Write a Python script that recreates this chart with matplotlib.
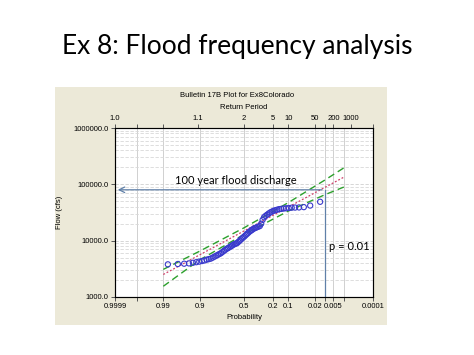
import numpy as np
import matplotlib
matplotlib.use('Agg')
import matplotlib.pyplot as plt
from matplotlib.patches import Rectangle
from statistics import NormalDist

# annual peak flows (cfs), ranked from largest to smallest
peak_flows = [49000, 42000, 39400, 38900, 38700, 38500, 38000, 37600, 37200, 36700,
              36300, 35500, 34700, 33900, 32700, 31600, 30200, 28800, 27500, 26000,
              23400, 20000, 18200, 17800, 17400, 17000, 16600, 16200, 15500, 15000,
              14500, 13800, 13200, 12600, 12000, 11500, 11000, 10500, 10000, 9550,
              9100, 8900, 8700, 8500, 8200, 7900, 7700, 7400, 7200, 6900,
              6600, 6300, 6000, 5800, 5600, 5400, 5200, 5000, 4800, 4700,
              4600, 4450, 4350, 4250, 4150, 4050, 3950, 3900, 3850, 3800]

# fitted frequency curve and confidence limits
curve_prob = [0.99, 0.9, 0.5, 0.1, 0.01, 0.002]
fit_flow = [2510, 5580, 14860, 39550, 87900, 134000]
upper_flow = [3090, 6490, 16900, 47500, 118600, 196000]
lower_flow = [1550, 4540, 12900, 33650, 65200, 89500]

q100 = 80000
p100 = 0.01

bottom_ticks = [0.9999, 0.999, 0.99, 0.9, 0.5, 0.2, 0.1, 0.02, 0.01, 0.005, 0.002, 0.0001]
bottom_labels = ['0.9999', '', '0.99', '0.9', '0.5', '0.2', '0.1', '0.02', '', '0.005', '', '0.0001']
top_periods = [1.0001, 1.001, 1.0101, 1.1, 2, 5, 10, 50, 100, 200, 1000, 10000]
top_labels = ['1.0', '', '', '1.1', '2', '5', '10', '50', '', '200', '1000', '']

nd = NormalDist()
_ppf = np.vectorize(lambda p: nd.inv_cdf(min(max(p, 1e-9), 1 - 1e-9)), otypes=[float])
_cdf = np.vectorize(nd.cdf, otypes=[float])


def fwd(p):
    return _ppf(np.asarray(p, dtype=float))


def inv(z):
    return _cdf(np.asarray(z, dtype=float))


n = len(peak_flows)
plot_pos = [(m + 1) / (n + 1) for m in range(n)]  # Weibull plotting positions

fig = plt.figure(figsize=(4.74, 3.55), dpi=100)
fig.patch.set_facecolor('white')
panel = Rectangle((0.116, 0.0845), 0.700, 0.670, transform=fig.transFigure,
                  facecolor='#ECE9D8', edgecolor='none', zorder=-5)
fig.add_artist(panel)

fig.text(0.5, 0.868, 'Ex 8: Flood frequency analysis', ha='center', va='center',
         fontsize=19, family='Lato', color='black')

ax = fig.add_axes([0.2426, 0.1634, 0.5443, 0.476])
ax.set_xscale('function', functions=(fwd, inv))
ax.set_yscale('log')
ax.set_xlim(0.9999, 0.0001)
ax.set_ylim(1000, 1000000)

# grid
for p in bottom_ticks[1:-1]:
    ax.axvline(p, color='#d0d0d0', lw=0.7, zorder=1)
for dec in [1000, 10000, 100000]:
    for k in range(2, 10):
        ax.axhline(dec * k, color='#d8d8d8', lw=0.6, ls=(0, (4, 2)), zorder=1)
    ax.axhline(dec, color='#d0d0d0', lw=0.6, ls=(0, (4, 2)), zorder=1)

ax.plot(curve_prob, upper_flow, color='#2ca02c', lw=1.0, ls=(0, (5, 3)), zorder=3)
ax.plot(curve_prob, lower_flow, color='#2ca02c', lw=1.0, ls=(0, (5, 3)), zorder=3)
ax.plot(curve_prob, fit_flow, color='#d0406a', lw=0.9, ls=(0, (1.5, 1.5)), zorder=3)
ax.scatter(plot_pos, peak_flows, s=14, facecolors='none', edgecolors='#3a3acc',
           linewidths=0.8, zorder=4)

# 100 year flood lines
line_c = '#6080a8'
ax.plot([p100, p100], [1000, q100], color=line_c, lw=0.9, zorder=5)
ax.annotate('', xy=(0.9999, q100), xytext=(p100, q100),
            arrowprops=dict(arrowstyle='->', color=line_c, lw=0.9), zorder=5)
ax.text(0.233, 0.692, '100 year flood discharge', transform=ax.transAxes,
        fontsize=8, family='Lato', va='center', ha='left')
ax.text(0.829, 0.296, 'p = 0.01', transform=ax.transAxes,
        fontsize=8, family='Lato', va='center', ha='left')

tick_font = dict(fontsize=5.5, family='Liberation Sans')
ax.set_xticks(bottom_ticks)
ax.set_xticklabels(bottom_labels, **tick_font)
ax.xaxis.set_minor_locator(matplotlib.ticker.NullLocator())
ax.set_yticks([1000, 10000, 100000, 1000000])
ax.set_yticklabels(['1000.0', '10000.0', '100000.0', '1000000.0'], **tick_font)
ax.yaxis.set_minor_locator(matplotlib.ticker.NullLocator())
ax.tick_params(length=3, width=0.7, color='#555555', pad=1.5)
ax.set_xlabel('Probability', fontsize=5.5, family='Liberation Sans', labelpad=3)
ax.set_ylabel('Flow (cfs)', fontsize=5.5, family='Liberation Sans', labelpad=18)
ax.yaxis.set_label_coords(-0.2, 0.5)
for s in ax.spines.values():
    s.set_color('#555555')
    s.set_linewidth(0.8)

ax2 = ax.twiny()
ax2.set_xscale('function', functions=(fwd, inv))
ax2.set_xlim(0.9999, 0.0001)
ax2.set_xticks([1.0 / t for t in top_periods])
ax2.set_xticklabels(top_labels, **tick_font)
ax2.xaxis.set_minor_locator(matplotlib.ticker.NullLocator())
ax2.tick_params(length=3, width=0.7, color='#555555', pad=1.5)
ax2.set_xlabel('Return Period', fontsize=5.5, family='Liberation Sans', labelpad=4)

fig.text(0.5, 0.73, 'Bulletin 17B Plot for Ex8Colorado', ha='center', va='center',
         fontsize=5.5, family='Liberation Sans')

fig.savefig('out.png', dpi=100, facecolor='white')
